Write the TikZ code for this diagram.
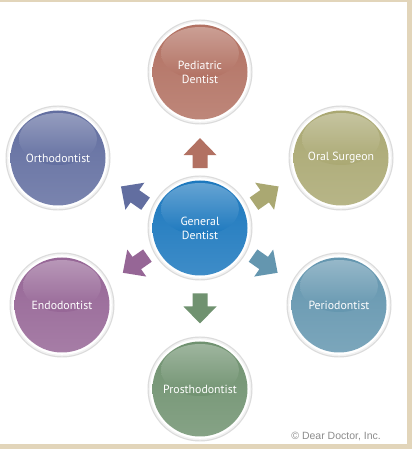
\documentclass[tikz,border=0pt]{standalone}
\usepackage{fontspec}
\setmainfont{PT Sans}
\newfontfamily\cpfont{Liberation Sans}
\usetikzlibrary{calc}
\definecolor{bordc}{RGB}{226,213,186}
\definecolor{pedc}{RGB}{178,113,98}
\definecolor{orthc}{RGB}{98,110,160}
\definecolor{oralc}{RGB}{170,168,114}
\definecolor{genc}{RGB}{28,120,190}
\definecolor{endoc}{RGB}{150,102,150}
\definecolor{perioc}{RGB}{100,150,175}
\definecolor{prosc}{RGB}{112,146,112}
\definecolor{cpc}{RGB}{140,140,140}
\newcommand\glossball[4]{%
  \fill[black!14] (#2) circle (52.5);
  \fill[black!5] (#2) circle (51.3);
  \fill[white] (#2) circle (49.8);
  \shade[shift={(#2)}, top color=#3, bottom color=#3!85!white] (0,0) circle (47.5);
  \shade[shift={(#2)}, top color=#3!68!white, bottom color=#3] (0,19) ellipse (39 and 26);
  \node[ball] (#1) at (#2) {#4};
}
\begin{document}
\begin{tikzpicture}[x=1pt,y=1pt,
  ball/.style={circle, minimum size=94pt, inner sep=0pt, text=white, align=center,
    font=\fontsize{11.8}{14}\selectfont},
  blockarr/.pic={\fill[pic actions] (-15,-7.5) -- (-2,-7.5) -- (-2,-16.5) -- (15,0)
     -- (-2,16.5) -- (-2,7.5) -- (-15,7.5) -- cycle;},
  copy/.style={text=cpc, font=\cpfont\fontsize{10.5}{12}\selectfont, inner sep=0pt}]
\fill[bordc] (0,0) rectangle (412,449);
\fill[white] (0,5) rectangle (407,447);
\useasboundingbox (0,0) rectangle (412,449);

\glossball{gen}{200,221}{genc}{General\\Dentist}
\glossball{ped}{200,377}{pedc}{Pediatric\\Dentist}
\glossball{orth}{58,291}{orthc}{Orthodontist}
\glossball{oral}{341,291}{oralc}{Oral Surgeon}
\glossball{endo}{62,144}{endoc}{Endodontist}
\glossball{perio}{339,144}{perioc}{Periodontist}
\glossball{pros}{200,60}{prosc}{Prosthodontist}

\path ($(gen)!0.48!(ped)$) pic[rotate=90, fill=pedc] {blockarr};
\path ($(gen)!0.50!(pros)$) pic[rotate=-90, fill=prosc] {blockarr};
\path ($(gen)!0.47!(orth)$) pic[rotate=145, fill=orthc] {blockarr};
\path ($(gen)!0.47!(oral)$) pic[rotate=35, fill=oralc] {blockarr};
\path ($(gen)!0.47!(endo)$) pic[rotate=215, fill=endoc] {blockarr};
\path ($(gen)!0.47!(perio)$) pic[rotate=325, fill=perioc] {blockarr};

\node[copy, anchor=east] (cp) at (381,12) {© Dear Doctor, Inc.};
\end{tikzpicture}
\end{document}
